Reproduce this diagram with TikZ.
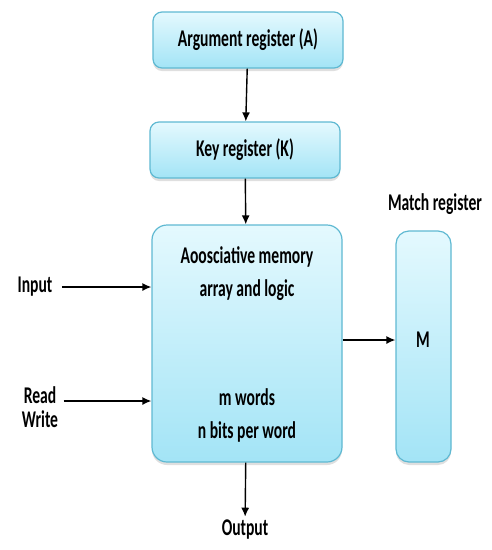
\documentclass[tikz,border=0pt]{standalone}
\usepackage{fontspec}
\setmainfont[FakeStretch=0.65]{Carlito}
\usetikzlibrary{shadows,arrows.meta}
\definecolor{boxtop}{HTML}{E4F9FE}
\definecolor{boxbot}{HTML}{A3E4F6}
\definecolor{boxline}{HTML}{5FB9D2}
\tikzset{
  regbox/.style={draw=boxline, line width=1.2pt, rounded corners=9pt,
    top color=boxtop, bottom color=boxbot,
    drop shadow={shadow xshift=0pt, shadow yshift=-3pt, opacity=0.25}},
  lbl/.style={font=\bfseries\fontsize{24}{33}\selectfont, align=center},
  arr/.style={-{Latex[length=9pt,width=8pt]}, line width=1.4pt},
}
\begin{document}
\begin{tikzpicture}[x=1pt,y=-1pt]
    \useasboundingbox (0,0) rectangle (491,550);
    % registers
    \node[regbox, lbl, minimum width=190pt, minimum height=56pt] (arg) at (248,40) {Argument register (A)};
    \node[regbox, lbl, minimum width=190pt, minimum height=56pt] (key) at (245,150) {Key register (K)};
    \node[regbox, rounded corners=15pt, minimum width=190pt, minimum height=237pt] (assoc) at (247,343.5) {};
    \node[regbox, rounded corners=13pt, minimum width=55pt, minimum height=231pt] (match) at (423.5,346.5) {};
    % texts
    \node[lbl] (assoctop) at (247,274) {Aoosciative memory\\array and logic};
    \node[lbl] (assocbot) at (247,415) {m words\\n bits per word};
    \node[lbl] (mlbl) at (423,340) {M};
    \node[lbl] (matchlbl) at (435,204) {Match register};
    \node[lbl] (input) at (35,287) {Input};
    \node[lbl, font=\bfseries\fontsize{24}{24}\selectfont] (rw) at (40,407) {Read\\Write};
    \node[lbl] (output) at (245,530) {Output};
    \coordinate (rwout) at ([yshift=6pt,xshift=-4pt]rw.east);
    % arrows
    \draw[arr] (arg) -- (key);
    \draw[arr] (key) -- (assoc);
    \draw[arr, shorten <=6pt] (input.east) -- (assoc.west |- input);
    \draw[arr, shorten <=6pt] (rwout) -- (assoc.west |- rwout);
    \draw[arr] (assoc.east |- mlbl) -- (match.west |- mlbl);
    \draw[arr] (assoc) -- (output);
\end{tikzpicture}
\end{document}
